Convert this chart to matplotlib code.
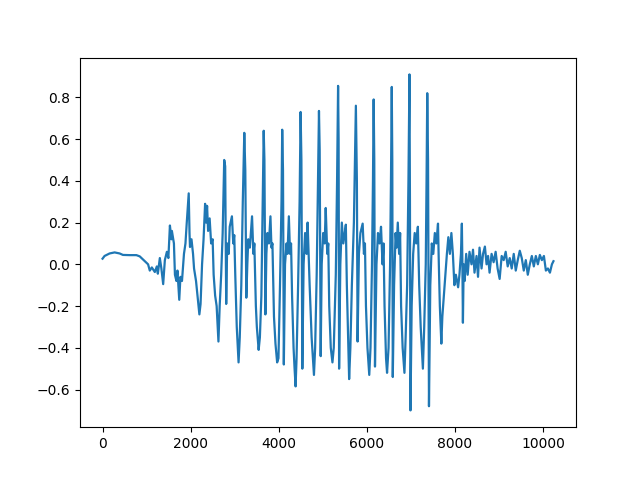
import matplotlib
matplotlib.use('Agg')
import matplotlib.pyplot as plt
import numpy as np

# sample index of each vertex
samples = [0, 46, 160, 274, 388, 463, 616, 769, 845, 936, 1034, 1073, 1119, 1187, 1233, 1256,
           1301, 1336, 1377, 1415, 1461, 1495, 1530, 1564, 1575, 1621, 1644, 1678, 1701, 1742,
           1769, 1804, 1849, 1883, 1911, 1957, 1975, 1986, 2020, 2055, 2078, 2123, 2169, 2199,
           2226, 2260, 2294, 2329, 2352, 2374, 2397, 2432, 2466, 2500, 2523, 2557, 2591, 2632,
           2660, 2694, 2728, 2763, 2785, 2808, 2831, 2865, 2888, 2938, 2968, 2991, 3014, 3048,
           3089, 3116, 3151, 3185, 3219, 3242, 3265, 3288, 3310, 3345, 3395, 3425, 3447, 3482,
           3504, 3545, 3573, 3607, 3630, 3660, 3676, 3698, 3721, 3744, 3778, 3813, 3836, 3858,
           3893, 3927, 3965, 3995, 4030, 4064, 4080, 4098, 4117, 4144, 4178, 4201, 4231, 4258,
           4281, 4304, 4338, 4361, 4384, 4406, 4441, 4475, 4498, 4516, 4537, 4566, 4600, 4634,
           4657, 4703, 4748, 4801, 4828, 4863, 4890, 4915, 4931, 4954, 4977, 5011, 5045, 5068,
           5103, 5126, 5148, 5183, 5221, 5251, 5297, 5326, 5349, 5361, 5372, 5400, 5434, 5468,
           5502, 5525, 5548, 5571, 5600, 5628, 5662, 5708, 5731, 5753, 5776, 5792, 5822, 5856,
           5907, 5936, 5959, 5982, 6016, 6057, 6085, 6119, 6141, 6157, 6171, 6187, 6221, 6255,
           6290, 6324, 6358, 6381, 6404, 6438, 6461, 6495, 6530, 6552, 6568, 6580, 6591, 6621,
           6655, 6678, 6705, 6735, 6758, 6780, 6815, 6856, 6883, 6917, 6947, 6970, 6981, 6993,
           7020, 7054, 7089, 7123, 7161, 7191, 7225, 7275, 7305, 7340, 7358, 7374, 7392, 7413,
           7443, 7477, 7511, 7546, 7580, 7618, 7637, 7660, 7694, 7717, 7751, 7785, 7820, 7853,
           7888, 7922, 7956, 7990, 8024, 8075, 8105, 8139, 8160, 8172, 8184, 8201, 8224, 8258,
           8292, 8333, 8379, 8413, 8447, 8493, 8527, 8561, 8607, 8641, 8683, 8721, 8755, 8789,
           8835, 8881, 8927, 8972, 9018, 9064, 9110, 9155, 9201, 9247, 9292, 9338, 9384, 9429,
           9475, 9520, 9566, 9612, 9657, 9703, 9749, 9794, 9840, 9886, 9931, 9977, 10023, 10068,
           10114, 10160, 10205, 10240]

# amplitude at each vertex
amplitude = [0.027, 0.04, 0.052, 0.057, 0.052, 0.045, 0.044, 0.044, 0.038, 0.02, 0.0, -0.03, -0.015, -0.037, -0.01, -0.045,
             0.03, -0.02, -0.095, 0.02, 0.06, 0.03, 0.186, 0.12, 0.16, 0.1, -0.05, -0.08, -0.03, -0.17,
             -0.06, -0.08, 0.05, 0.1, 0.195, 0.34, 0.15, 0.083, 0.12, 0.05, -0.02, -0.08, -0.18, -0.24,
             -0.19, 0.0, 0.12, 0.29, 0.2, 0.28, 0.16, 0.22, 0.1, 0.12, -0.05, -0.15, -0.2, -0.37,
             -0.2, -0.05, 0.15, 0.5, 0.47, -0.19, 0.1, 0.05, 0.18, 0.23, 0.1, 0.14, -0.05, -0.3,
             -0.47, -0.35, -0.1, 0.3, 0.63, 0.45, -0.16, 0.0, 0.12, 0.08, 0.23, 0.05, 0.1, -0.2,
             -0.3, -0.41, -0.35, -0.15, 0.2, 0.64, 0.5, -0.24, 0.05, 0.15, 0.1, 0.23, 0.08, 0.1,
             -0.25, -0.38, -0.47, -0.45, -0.1, 0.3, 0.645, 0.45, -0.48, 0.0, 0.1, 0.05, 0.23, 0.05,
             0.1, -0.15, -0.4, -0.5, -0.585, -0.45, -0.1, 0.3, 0.73, 0.5, -0.5, 0.0, 0.15, 0.05,
             0.2, -0.1, -0.35, -0.53, -0.4, -0.05, 0.35, 0.735, 0.55, -0.44, 0.0, 0.15, 0.1, 0.27,
             0.05, 0.1, -0.2, -0.4, -0.47, -0.4, -0.05, 0.4, 0.855, 0.6, -0.5, 0.0, 0.2, 0.1,
             0.15, 0.19, -0.1, -0.3, -0.55, -0.4, -0.1, 0.2, 0.5, 0.76, 0.4, -0.37, 0.05, 0.15,
             0.195, 0.05, 0.1, -0.2, -0.4, -0.53, -0.4, 0.0, 0.4, 0.79, 0.5, -0.49, 0.0, 0.15,
             0.1, 0.18, 0.0, 0.1, -0.2, -0.45, -0.52, -0.4, 0.0, 0.45, 0.85, 0.5, -0.54, -0.1,
             0.15, 0.08, 0.2, 0.05, 0.15, -0.2, -0.4, -0.52, -0.35, -0.1, 0.4, 0.91, 0.3, -0.70,
             -0.2, 0.05, 0.15, 0.1, 0.18, -0.1, -0.3, -0.5, -0.3, 0.0, 0.4, 0.82, 0.5, -0.68,
             -0.1, 0.1, 0.05, 0.15, 0.1, 0.195, 0.0, -0.2, -0.38, -0.25, -0.15, -0.05, 0.05, 0.13,
             0.05, 0.15, 0.05, -0.1, -0.05, -0.11, -0.05, 0.05, 0.195, 0.0, -0.28, 0.0, -0.08, 0.05,
             -0.05, 0.06, 0.0, 0.07, -0.04, 0.04, -0.06, 0.08, -0.02, 0.05, 0.085, 0.0, 0.04, -0.04,
             0.05, 0.01, 0.06, -0.02, -0.07, 0.04, 0.02, 0.06, -0.01, 0.03, -0.02, 0.05, -0.03, 0.02,
             0.065, 0.03, -0.03, 0.02, -0.05, 0.0, 0.04, -0.01, 0.04, 0.0, 0.045, 0.02, 0.04, -0.03,
             -0.02, -0.04, 0.0, 0.015]

plt.figure(figsize=(6.4, 4.8), dpi=100)
plt.plot(samples, amplitude, color='#1f77b4', linewidth=1.6)
plt.savefig('out.png')
